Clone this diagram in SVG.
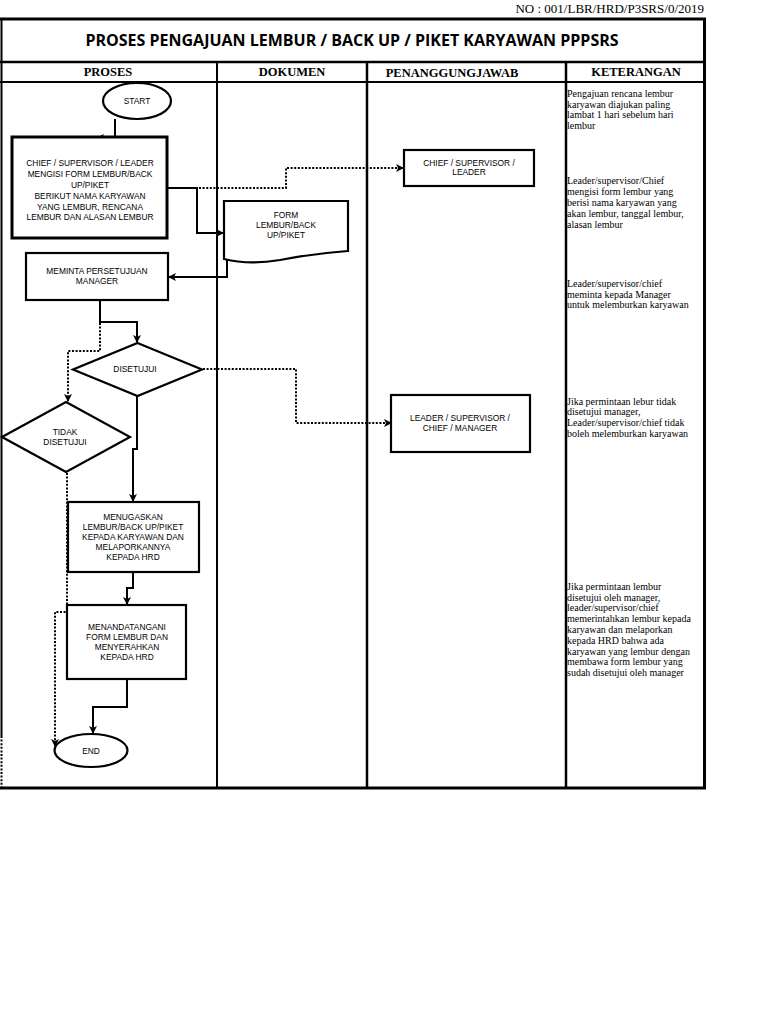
<svg xmlns="http://www.w3.org/2000/svg" width="768" height="1024" viewBox="0 0 768 1024">
<style>
.node{font-family:"Liberation Sans",Arial,sans-serif;font-size:8.4px;fill:#000;text-anchor:middle}
.ket{font-family:"Liberation Serif",serif;font-size:10px;fill:#000}
.hdr{font-family:"Liberation Serif",serif;font-size:12.5px;font-weight:bold;text-anchor:middle}
.shape{fill:#fff;stroke:#000;stroke-width:2.2}
.thick{stroke-width:3}
.solid{fill:none;stroke:#000;stroke-width:2}
.dot{fill:none;stroke:#000;stroke-width:2;stroke-dasharray:2 1.6}
.grid{stroke:#000;fill:none}
</style>
<defs>
<marker id="ah" markerWidth="9" markerHeight="9" refX="7" refY="4" orient="auto" markerUnits="userSpaceOnUse">
<path d="M0,0 L8,4 L0,8 L2,4 z" fill="#000"/>
</marker>
</defs>
<rect width="768" height="1024" fill="#fff"/>
<g id="table">
<text x="704" y="13" font-family="Liberation Serif,serif" font-size="13" text-anchor="end">NO : 001/LBR/HRD/P3SRS/0/2019</text>
<line class="grid" x1="0" y1="19" x2="706" y2="19" stroke-width="3"/>
<line class="grid" x1="704.5" y1="18" x2="704.5" y2="789" stroke-width="3"/>
<line class="grid" x1="0" y1="788" x2="706" y2="788" stroke-width="3"/>
<line class="grid" x1="1.5" y1="18" x2="1.5" y2="736" stroke-width="2"/>
<line class="grid" x1="1.5" y1="736" x2="1.5" y2="788" stroke-width="2" stroke-dasharray="2 1.6"/>
<line class="grid" x1="0" y1="62" x2="706" y2="62" stroke-width="2.5"/>
<line class="grid" x1="0" y1="82" x2="706" y2="82" stroke-width="2"/>
<line class="grid" x1="217" y1="62" x2="217" y2="788" stroke-width="2"/>
<line class="grid" x1="367" y1="62" x2="367" y2="788" stroke-width="2.5"/>
<line class="grid" x1="566" y1="62" x2="566" y2="788" stroke-width="2.5"/>
<text x="352" y="46" font-family="Open Sans,Noto Sans,sans-serif" font-size="16" font-weight="bold" text-anchor="middle">PROSES PENGAJUAN LEMBUR / BACK UP / PIKET KARYAWAN PPPSRS</text>
<text class="hdr" x="108" y="76">PROSES</text>
<text class="hdr" x="292" y="76">DOKUMEN</text>
<text class="hdr" x="452" y="76.5">PENANGGUNGJAWAB</text>
<text class="hdr" x="636" y="76">KETERANGAN</text>
</g>
<g id="connectors">
<path class="solid" d="M115,119 V138 H97" marker-end="url(#ah)"/>
<path class="solid" d="M167,188 H197 V233 H223" marker-end="url(#ah)"/>
<path class="solid" d="M227,259 V277 H169" marker-end="url(#ah)"/>
<path class="solid" d="M100,300 V322 H137 V342" marker-end="url(#ah)"/>
<path class="solid" d="M137,396 V449 H133 V501" marker-end="url(#ah)"/>
<path class="solid" d="M133,572 V588 H127 V604" marker-end="url(#ah)"/>
<path class="solid" d="M127,679 V707 H93 V733" marker-end="url(#ah)"/>
<path class="dot" d="M199,188 H286 V168 H403" marker-end="url(#ah)"/>
<path class="dot" d="M100,323 V351 H68 V401" marker-end="url(#ah)"/>
<path class="dot" d="M203,369 H296 V423 H391" marker-end="url(#ah)"/>
<path class="dot" d="M67,473 V612 H55 V746" marker-end="url(#ah)"/>
</g>
<g id="start">
<ellipse class="shape" cx="137" cy="101" rx="34" ry="18"/>
<text class="node" x="137" y="104">START</text>
</g>
<g id="isi-form">
<rect class="shape thick" x="12" y="137" width="155" height="101"/>
<text class="node" x="90" y="166">CHIEF / SUPERVISOR / LEADER</text>
<text class="node" x="90" y="177">MENGISI FORM LEMBUR/BACK</text>
<text class="node" x="90" y="188">UP/PIKET</text>
<text class="node" x="90" y="199">BERIKUT NAMA KARYAWAN</text>
<text class="node" x="90" y="209.5">YANG LEMBUR, RENCANA</text>
<text class="node" x="90" y="220">LEMBUR DAN ALASAN LEMBUR</text>
</g>
<g id="form">
<path class="shape" d="M224,201 H348 V251 C320,253 300,256 280,260 C262,263 240,263 224,259 Z"/>
<text class="node" x="286" y="218">FORM</text>
<text class="node" x="286" y="228">LEMBUR/BACK</text>
<text class="node" x="286" y="238">UP/PIKET</text>
</g>
<g id="chief">
<rect class="shape" x="404" y="150" width="130" height="36"/>
<text class="node" x="469" y="165.5">CHIEF / SUPERVISOR /</text>
<text class="node" x="469" y="175">LEADER</text>
</g>
<g id="minta">
<rect class="shape" x="26" y="253" width="142" height="47"/>
<text class="node" x="97" y="274">MEMINTA PERSETUJUAN</text>
<text class="node" x="97" y="284">MANAGER</text>
</g>
<g id="disetujui">
<polygon class="shape" points="137.5,343 202,369.5 137.5,396 73,369.5"/>
<text class="node" x="135" y="372">DISETUJUI</text>
</g>
<g id="tidak">
<polygon class="shape" points="66,402 130,437 66,472 2,437"/>
<text class="node" x="65" y="435">TIDAK</text>
<text class="node" x="65" y="445">DISETUJUI</text>
</g>
<g id="leader">
<rect class="shape" x="391" y="395" width="139" height="57"/>
<text class="node" x="460" y="421">LEADER / SUPERVISOR /</text>
<text class="node" x="460" y="431">CHIEF / MANAGER</text>
</g>
<g id="tugaskan">
<rect class="shape" x="68" y="502" width="131" height="70" stroke-width="2.5"/>
<text class="node" x="133" y="520">MENUGASKAN</text>
<text class="node" x="133" y="530">LEMBUR/BACK UP/PIKET</text>
<text class="node" x="133" y="540">KEPADA KARYAWAN DAN</text>
<text class="node" x="133" y="550">MELAPORKANNYA</text>
<text class="node" x="133" y="560">KEPADA HRD</text>
</g>
<g id="tandatangan">
<rect class="shape" x="67" y="605" width="119" height="74"/>
<text class="node" x="127" y="630">MENANDATANGANI</text>
<text class="node" x="127" y="640">FORM LEMBUR DAN</text>
<text class="node" x="127" y="650">MENYERAHKAN</text>
<text class="node" x="127" y="660">KEPADA HRD</text>
</g>
<g id="end">
<ellipse class="shape" cx="91" cy="750.5" rx="36.5" ry="16.5"/>
<text class="node" x="91" y="753.5">END</text>
</g>
<g id="keterangan">
<text class="ket" x="567" y="96.5">Pengajuan rencana lembur</text>
<text class="ket" x="567" y="107.5">karyawan diajukan paling</text>
<text class="ket" x="567" y="118">lambat 1 hari sebelum hari</text>
<text class="ket" x="567" y="128.5">lembur</text>
<text class="ket" x="567" y="184">Leader/supervisor/Chief</text>
<text class="ket" x="567" y="195">mengisi form lembur yang</text>
<text class="ket" x="567" y="205.5">berisi nama karyawan yang</text>
<text class="ket" x="567" y="216.5">akan lembur, tanggal lembur,</text>
<text class="ket" x="567" y="227.5">alasan lembur</text>
<text class="ket" x="567" y="287">Leader/supervisor/chief</text>
<text class="ket" x="567" y="297.5">meminta kepada Manager</text>
<text class="ket" x="567" y="308">untuk melemburkan karyawan</text>
<text class="ket" x="567" y="404.5">Jika permintaan lebur tidak</text>
<text class="ket" x="567" y="415">disetujui manager,</text>
<text class="ket" x="567" y="425.5">Leader/supervisor/chief tidak</text>
<text class="ket" x="567" y="436.5">boleh melemburkan karyawan</text>
<text class="ket" x="567" y="589.5">Jika permintaan lembur</text>
<text class="ket" x="567" y="600.5">disetujui oleh manager,</text>
<text class="ket" x="567" y="611">leader/supervisor/chief</text>
<text class="ket" x="567" y="622">memerintahkan lembur kepada</text>
<text class="ket" x="567" y="632.5">karyawan dan melaporkan</text>
<text class="ket" x="567" y="643.5">kepada HRD bahwa ada</text>
<text class="ket" x="567" y="654.5">karyawan yang lembur dengan</text>
<text class="ket" x="567" y="665">membawa form lembur yang</text>
<text class="ket" x="567" y="676">sudah disetujui oleh manager</text>
</g>
</svg>
